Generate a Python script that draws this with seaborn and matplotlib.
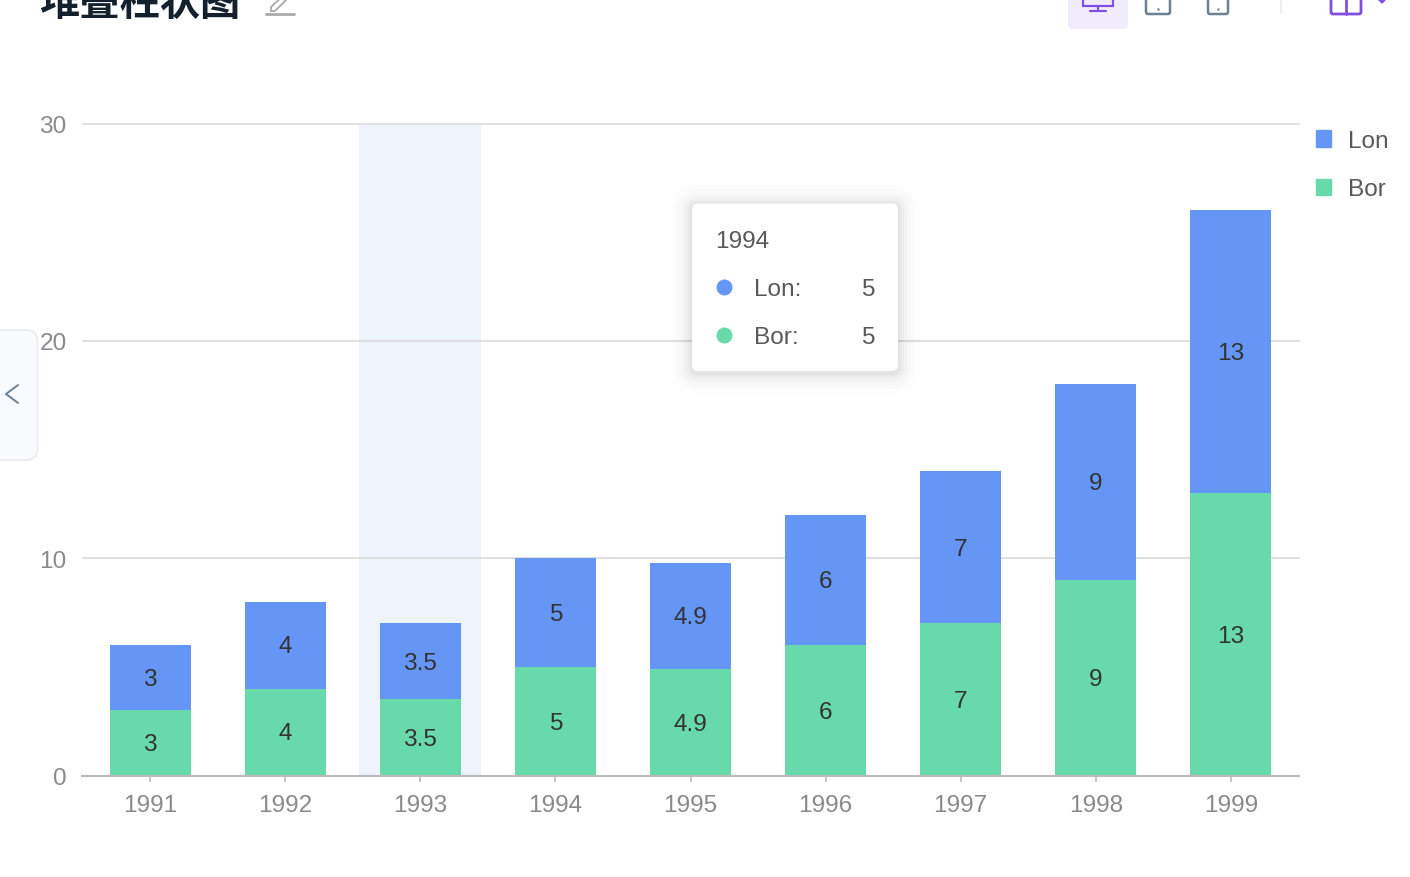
import matplotlib
matplotlib.use("Agg")
import matplotlib.pyplot as plt
from matplotlib.patches import FancyBboxPatch, Patch, Rectangle
import pandas as pd
import seaborn as sns

# Datos del grafico
years = ["1991", "1992", "1993", "1994", "1995", "1996", "1997", "1998", "1999"]
lon = [3, 4, 3.5, 5, 4.9, 6, 7, 9, 13]
bor = [3, 4, 3.5, 5, 4.9, 6, 7, 9, 13]
y_ticks = [0, 10, 20, 30]
title = "堆叠柱状图"
highlight_year = "1993"
tooltip_year = "1994"

BLUE = "#6595F5"
GREEN = "#67D9AA"
GREY_TEXT = "#8A8A8A"
DARK_TEXT = "#595959"
PURPLE = "#8250E0"
SLATE = "#6E8094"
FONT = 17.6
W, H = 1410, 878

sns.set_theme(style="white")
plt.rcParams["font.family"] = ["Liberation Sans", "Noto Sans CJK SC", "DejaVu Sans"]

df = pd.DataFrame({"year": years, "lon": lon, "bor": bor})

fig = plt.figure(figsize=(W / 100, H / 100), dpi=100, facecolor="white")
ax = fig.add_axes([82.5 / W, 1 - 776.5 / H, (1298.5 - 82.5) / W, (776 - 124) / H])

# Barras apiladas
sns.barplot(data=df, x="year", y="bor", color=GREEN, saturation=1, width=0.6, linewidth=0, ax=ax, zorder=3)
sns.barplot(data=df, x="year", y="lon", bottom=df["bor"].to_numpy(), color=BLUE, saturation=1,
            width=0.6, linewidth=0, ax=ax, zorder=3)

for container in ax.containers:
    labels = ax.bar_label(container, fmt="%g", label_type="center", fontsize=FONT, color="#333333", zorder=5)
    for label in labels:
        label.set_va("center_baseline")
        label.xyann = (0, 0.8)

# Banda resaltada
idx = years.index(highlight_year)
ax.axvspan(idx - 0.45, idx + 0.45, color="#EFF3FB", lw=0, zorder=1)

ax.set_xlim(-0.5, len(years) - 0.5)
ax.set_ylim(y_ticks[0], y_ticks[-1])
ax.set_yticks(y_ticks)
ax.set_xlabel("")
ax.set_ylabel("")
ax.grid(axis="y", color="#E0E0E0", lw=1.5, zorder=2, clip_on=False)
ax.set_axisbelow(False)
ax.grid(axis="x", visible=False)
for side in ["top", "left", "right"]:
    ax.spines[side].set_visible(False)
ax.spines["bottom"].set_color("#BBBBBB")
ax.spines["bottom"].set_linewidth(1.5)
ax.spines["bottom"].set_zorder(6)
ax.tick_params(axis="x", length=4, width=1.2, color="#BBBBBB", labelcolor=GREY_TEXT, labelsize=FONT, pad=9.5, bottom=True)
ax.tick_params(axis="y", length=0, labelcolor=GREY_TEXT, labelsize=FONT, pad=11.5)

# Leyenda
handles = [Patch(color=BLUE, label="Lon"), Patch(color=GREEN, label="Bor")]
fig.legend(handles=handles, loc="upper left", bbox_to_anchor=(1315.5 / W, 1 - 131 / H), frameon=False,
           fontsize=FONT, labelcolor=DARK_TEXT, borderpad=0, borderaxespad=0, handlelength=0.65,
           handleheight=0.65, handletextpad=0.7, labelspacing=1.08)

# Capa en pixeles para los elementos de la interfaz
ui = fig.add_axes([0, 0, 1, 1], zorder=10)
ui.set_xlim(0, W)
ui.set_ylim(H, 0)
ui.axis("off")
ui.patch.set_alpha(0)


def rounded(x0, y0, x1, y1, r, **kws):
    patch = FancyBboxPatch((x0 + r, y0 + r), x1 - x0 - 2 * r, y1 - y0 - 2 * r,
                           boxstyle=f"round,pad={r},rounding_size={r}", **kws)
    ui.add_patch(patch)


# Titulo recortado e icono de lapiz
ui.text(39, 14.5, title, fontsize=29, fontweight="bold", color="#14202B",
        family=["Noto Sans CJK SC", "DejaVu Sans"], va="baseline", ha="left")
ui.plot([266, 294], [14.5, 14.5], color="#AAAAAA", lw=2)
ui.plot([271, 271, 283, 287], [12, 8, -3, -3], color="#AAAAAA", lw=1.3)
ui.plot([271, 275, 288], [12, 12, -1], color="#AAAAAA", lw=1.3)

# Barra de herramientas
rounded(1068, -10, 1128, 30, 5, fc="#F1ECFD", ec="none")
ui.add_patch(Rectangle((1083, -6), 30, 13, fc="none", ec=PURPLE, lw=1.6))
ui.plot([1098, 1098], [7, 12], color=PURPLE, lw=1.6)
ui.plot([1090, 1106], [12, 12], color=PURPLE, lw=1.6)
for left, right in [(1146, 1170), (1208, 1228)]:
    rounded(left, -12, right, 15, 2, fc="none", ec=SLATE, lw=1.8)
    ui.plot([(left + right) / 2], [9.5], marker="o", ms=1.8, mew=0, color=SLATE)
ui.plot([1281, 1281], [0, 14], color="#EBEBEB", lw=1.2)
rounded(1331, -12, 1361, 15, 2, fc="none", ec=PURPLE, lw=2)
ui.plot([1346, 1346], [-2, 15], color=PURPLE, lw=2)
ui.plot([1331, 1361], [-0.5, -0.5], color=PURPLE, lw=2)
ui.fill([1376, 1388, 1382], [-2, -2, 4], color=PURPLE, lw=1)

# Panel lateral
rounded(-20, 331, 37.5, 461, 12, fc="#F8FAFD", ec="#E8EAEE", lw=1.2)
ui.plot([18, 6, 18], [386, 395, 404], color=SLATE, lw=1.4)

# Tooltip
for grow, alpha in [(20, 0.008), (16, 0.01), (12, 0.012), (9, 0.015), (6, 0.018), (4, 0.02), (2, 0.022)]:
    rounded(692 - grow, 204 - grow + 2, 898 + grow, 372 + grow + 2, 6 + grow, fc="black", ec="none", alpha=alpha)
rounded(692, 204.5, 898, 372, 6, fc="white", ec="none")

tip = df[df["year"] == tooltip_year].iloc[0]
ui.text(715.5, 240, tooltip_year, fontsize=FONT, color=DARK_TEXT, va="center_baseline", ha="left")
for name, color, yy, value in [("Lon", BLUE, 288, tip["lon"]), ("Bor", GREEN, 336, tip["bor"])]:
    ui.plot([724], [yy], marker="o", ms=11.5, mew=0, color=color)
    ui.text(754.5, yy, f"{name}:", fontsize=FONT, color=DARK_TEXT, va="center_baseline", ha="left")
    ui.text(875, yy, f"{value:g}", fontsize=FONT, color=DARK_TEXT, va="center_baseline", ha="right")

ui.set_xlim(0, W)
ui.set_ylim(H, 0)

fig.savefig("out.png", dpi=100)
plt.close(fig)
